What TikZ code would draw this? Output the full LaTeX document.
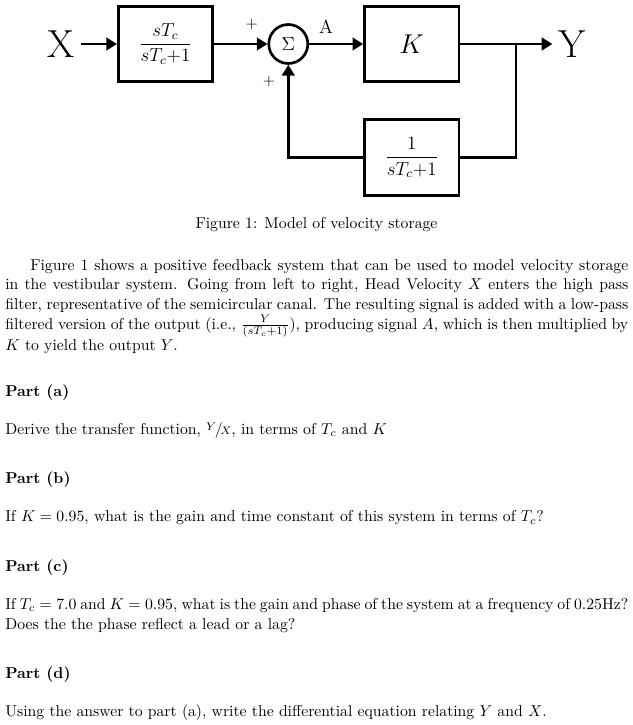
\documentclass[tikz,border=0pt]{standalone}
\usepackage{amsmath}
\usetikzlibrary{arrows.meta}
\begin{document}
\begin{tikzpicture}[x=0.636pt,y=-0.636pt,
  blk/.style={draw,line width=1.7pt,minimum width=60pt,minimum height=48.1pt,inner sep=0pt},
  sumnode/.style={draw,circle,line width=1.7pt,minimum size=24.8pt,inner sep=0pt},
  wire/.style={line width=1.7pt},
  conn/.style={wire,-{Triangle[length=6.8pt,width=8pt]}},
  lbl/.style={inner sep=4pt},
  txt/.style={anchor=base west,inner sep=0pt}]
\fill[white] (0,0) rectangle (633,725);
\useasboundingbox (0,0) rectangle (633,725);

% block diagram
\node[lbl] (x) at (61,44) {\Huge X};
\node[blk] (hp) at (165.5,44) {\large$\dfrac{sT_c}{sT_c{+}1}$};
\node[sumnode] (sum) at (288.3,44) {\large$\Sigma$};
\node[blk] (k) at (411.7,44) {\LARGE$K$};
\node[lbl] (y) at (572.5,44) {\Huge Y};
\node[blk] (lp) at (411.7,157.5) {\large$\dfrac{1}{sT_c{+}1}$};
\coordinate (jn) at (516,44);

\node (plus1) at (251.7,25) {$+$};
\node (plus2) at (269,82) {$+$};
\node (asig) at (326,27) {\large A};

\draw[conn] (x) -- (hp);
\draw[conn] (hp) -- (sum);
\draw[conn] (sum) -- (k);
\draw[conn] (k) -- (y);
\draw[wire] (jn) |- (lp.east);
\draw[conn] (lp.west) -| (sum.south);

\node[anchor=base,inner sep=0pt] (cap) at (316.5,228.5) {Figure 1: Model of velocity storage};

% text
\node[txt] (p1) at (30,270) {\makebox[380.3pt][s]{Figure 1 shows a positive feedback system that can be used to model velocity storage}};
\node[txt] (p2) at (5,289.5) {\makebox[396.2pt][s]{in the vestibular system. Going from left to right, Head Velocity $X$ enters the high pass}};
\node[txt] (p3) at (5,309.3) {\makebox[396.2pt][s]{filter, representative of the semicircular canal. The resulting signal is added with a low-pass}};
\node[txt] (p4) at (5,329) {\makebox[396.2pt][s]{filtered version of the output (i.e., $\frac{Y}{(sT_c+1)}$), producing signal $A$, which is then multiplied by}};
\node[txt] (p5) at (5,350) {$K$ to yield the output $Y$.};

\node[txt] (pa) at (5,396.7) {\textbf{Part (a)}};
\node[txt] (qa) at (5,434.3) {Derive the transfer function, \raisebox{0.6ex}{$\scriptstyle Y$}\kern-0.1em/\kern-0.15em$\scriptstyle X$, in terms of $T_c$ and $K$};
\node[txt] (pb) at (5,483.3) {\textbf{Part (b)}};
\node[txt] (qb) at (5,521.7) {If $K=0.95$, what is the gain and time constant of this system in terms of $T_c$?};
\node[txt] (pc) at (5,571.7) {\textbf{Part (c)}};
\node[txt] (qc1) at (5,609.3) {\makebox[396.2pt][s]{If $T_c=7.0$ and $K=0.95$, what is the gain and phase of the system at a frequency of $0.25$Hz?}};
\node[txt] (qc2) at (5,629.3) {Does the the phase reflect a lead or a lag?};
\node[txt] (pd) at (5,678.3) {\textbf{Part (d)}};
\node[txt] (qd) at (5,716.7) {Using the answer to part (a), write the differential equation relating $Y$ and $X$.};
\end{tikzpicture}
\end{document}
